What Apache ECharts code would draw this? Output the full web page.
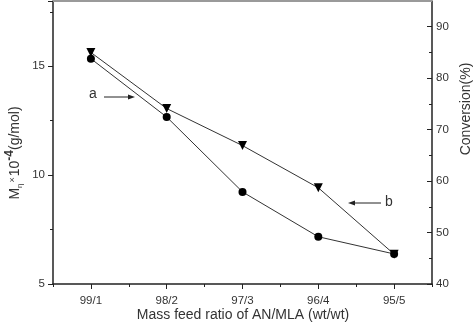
<!DOCTYPE html>
<html><head><meta charset="utf-8">
<script src="https://cdn.jsdelivr.net/npm/echarts@6/dist/echarts.min.js"></script>
<style>html,body{margin:0;padding:0;background:#fff}#c{width:474px;height:332px}</style>
</head><body><div id="c"></div>
<script>
var categories = ['99/1', '98/2', '97/3', '96/4', '95/5'];
var mwValues = [15.35, 12.67, 9.23, 7.17, 6.38];          // series a, left axis (Mη×10^-4)
var conversionValues = [85.0, 74.1, 66.9, 58.7, 45.8];   // series b, right axis (%)
var leftTicks = [5, 10, 15];
var rightTicks = [40, 50, 60, 70, 80, 90];

var chart = echarts.init(document.getElementById('c'), null, {renderer: 'canvas'});
var FONT = 'Liberation Sans, Arial, sans-serif';
var axisCol = '#222';
var lineStyleAxis = {color: axisCol, width: 1.5};
var labelStyle = {color: '#333', fontSize: 11.5, fontFamily: FONT};

function arrow(x1, x2, y) {
  var dir = x2 > x1 ? 1 : -1;
  return [
    {type: 'line', shape: {x1: x1, y1: y, x2: x2 - dir * 5, y2: y}, style: {stroke: '#222', lineWidth: 1}},
    {type: 'polygon', shape: {points: [[x2, y], [x2 - dir * 7, y - 2.5], [x2 - dir * 7, y + 2.5]]}, style: {fill: '#222'}}
  ];
}
function yAx(min, max, interval, pos, inside, len, showLabels, ticks, showLine, margin) {
  return {
    type: 'value', min: min, max: max, interval: interval, position: pos,
    axisLine: {show: showLine, lineStyle: lineStyleAxis},
    axisTick: {show: true, inside: inside, length: len, lineStyle: {color: axisCol, width: 1}},
    axisLabel: Object.assign({show: showLabels, margin: margin,
      formatter: function (v) { return ticks.indexOf(v) >= 0 ? String(v) : ''; }}, labelStyle),
    splitLine: {show: false}
  };
}

var option = {
  backgroundColor: '#fff',
  animation: false,
  grid: {left: 53, right: 42, top: 1, bottom: 48, containLabel: false},
  xAxis: [{
    type: 'category', data: categories, boundaryGap: true, position: 'bottom',
    axisLine: {lineStyle: lineStyleAxis},
    axisTick: {show: true, alignWithLabel: true, length: 5, lineStyle: {color: axisCol, width: 1}},
    axisLabel: Object.assign({margin: 11}, labelStyle),
    splitLine: {show: false}
  }, {
    type: 'category', data: categories, boundaryGap: true, position: 'bottom',
    axisLine: {show: false},
    axisTick: {show: true, alignWithLabel: false, length: 3, lineStyle: {color: axisCol, width: 1}},
    axisLabel: {show: false},
    splitLine: {show: false}
  }],
  yAxis: [
    yAx(5, 18, 5, 'left', false, 5, true, leftTicks, true, 8),
    yAx(5, 18, 2.5, 'left', false, 3, false, leftTicks, false, 8),
    yAx(40, 95, 10, 'right', true, 5, true, rightTicks, true, 4),
    yAx(40, 95, 5, 'right', true, 3, false, rightTicks, false, 4)
  ],
  series: [{
    name: 'a', type: 'line', xAxisIndex: 0, yAxisIndex: 0, data: mwValues,
    symbol: 'circle', symbolSize: 8,
    lineStyle: {color: '#333', width: 1}, itemStyle: {color: '#000'}
  }, {
    name: 'b', type: 'line', xAxisIndex: 0, yAxisIndex: 2, data: conversionValues,
    symbol: 'triangle', symbolRotate: 180, symbolSize: 9,
    lineStyle: {color: '#333', width: 1}, itemStyle: {color: '#000'}
  }],
  graphic: [
    {type: 'rect', shape: {x: 53, y: 0, width: 379, height: 2}, style: {fill: '#9a9a9a'}, z: 100},
    {type: 'text', x: 15, y: 153, rotation: Math.PI / 2,
      style: {text: '{m|M}{s|η}{x|×}{m|10}{p|-4}{m|(g/mol)}', align: 'center', verticalAlign: 'middle', fill: '#333',
        rich: {
          m: {fontSize: 14, fontFamily: FONT, fill: '#333', verticalAlign: 'middle'},
          s: {fontSize: 8, fontFamily: FONT, fill: '#333', padding: [10, 0, 0, 0]},
          x: {fontSize: 9, fontFamily: FONT, fill: '#333', padding: [0, 1, 4, 1]},
          p: {fontSize: 12, fontWeight: 'bold', fontFamily: FONT, fill: '#333', padding: [0, 0, 10, 0]}
        }}},
    {type: 'text', x: 466, y: 109, rotation: Math.PI / 2,
      style: {text: 'Conversion(%)', align: 'center', verticalAlign: 'middle', fill: '#333', fontSize: 14, fontFamily: FONT}},
    {type: 'text', x: 243, y: 315,
      style: {text: 'Mass feed ratio of AN/MLA (wt/wt)', align: 'center', verticalAlign: 'middle', fill: '#333', fontSize: 14, fontFamily: FONT}},
    {type: 'text', x: 93, y: 94, style: {text: 'a', align: 'center', verticalAlign: 'middle', fill: '#333', fontSize: 14, fontFamily: FONT}},
    {type: 'text', x: 389, y: 202, style: {text: 'b', align: 'center', verticalAlign: 'middle', fill: '#333', fontSize: 14, fontFamily: FONT}}
  ].concat(arrow(104, 135, 97)).concat(arrow(381, 348, 203))
};
chart.setOption(option);
</script></body></html>
